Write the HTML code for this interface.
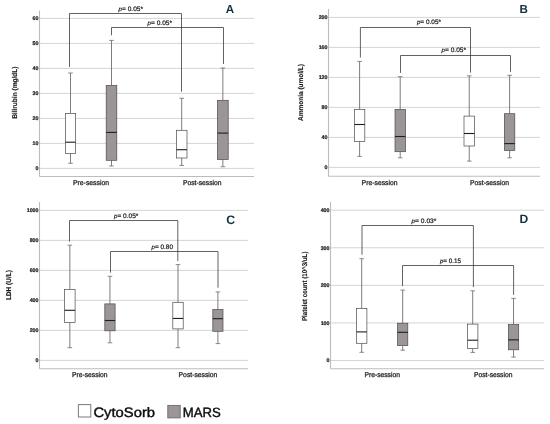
<!DOCTYPE html>
<html lang="en">
<head>
<meta charset="utf-8">
<title>Box plots: CytoSorb vs MARS</title>
<style>
html,body{margin:0;padding:0;background:#ffffff;}
body{width:550px;height:424px;overflow:hidden;}
svg{display:block;font-family:"Liberation Sans", sans-serif;}
</style>
</head>
<body>
<svg width="550" height="424" viewBox="0 0 550 424" text-rendering="geometricPrecision">
<rect x="0" y="0" width="550" height="424" fill="#ffffff"/>
<line x1="39.5" y1="18.4" x2="254" y2="18.4" stroke="#cfcfcf" stroke-width="0.9"/>
<line x1="39.5" y1="43.4" x2="254" y2="43.4" stroke="#cfcfcf" stroke-width="0.9"/>
<line x1="39.5" y1="68.4" x2="254" y2="68.4" stroke="#cfcfcf" stroke-width="0.9"/>
<line x1="39.5" y1="93.4" x2="254" y2="93.4" stroke="#cfcfcf" stroke-width="0.9"/>
<line x1="39.5" y1="118.4" x2="254" y2="118.4" stroke="#cfcfcf" stroke-width="0.9"/>
<line x1="39.5" y1="143.4" x2="254" y2="143.4" stroke="#cfcfcf" stroke-width="0.9"/>
<line x1="39.5" y1="168.4" x2="254" y2="168.4" stroke="#cfcfcf" stroke-width="0.9"/>
<line x1="39.5" y1="10.5" x2="39.5" y2="176.5" stroke="#bcbcbc" stroke-width="1.1"/>
<line x1="39.5" y1="176.5" x2="254" y2="176.5" stroke="#bcbcbc" stroke-width="1.1"/>
<text x="38.5" y="20.2" font-size="5.3" font-weight="700" text-anchor="end" fill="#1c1c1c" stroke="#1c1c1c" stroke-width="0.22">60</text>
<text x="38.5" y="45.199999999999996" font-size="5.3" font-weight="700" text-anchor="end" fill="#1c1c1c" stroke="#1c1c1c" stroke-width="0.22">50</text>
<text x="38.5" y="70.2" font-size="5.3" font-weight="700" text-anchor="end" fill="#1c1c1c" stroke="#1c1c1c" stroke-width="0.22">40</text>
<text x="38.5" y="95.2" font-size="5.3" font-weight="700" text-anchor="end" fill="#1c1c1c" stroke="#1c1c1c" stroke-width="0.22">30</text>
<text x="38.5" y="120.2" font-size="5.3" font-weight="700" text-anchor="end" fill="#1c1c1c" stroke="#1c1c1c" stroke-width="0.22">20</text>
<text x="38.5" y="145.20000000000002" font-size="5.3" font-weight="700" text-anchor="end" fill="#1c1c1c" stroke="#1c1c1c" stroke-width="0.22">10</text>
<text x="38.5" y="170.20000000000002" font-size="5.3" font-weight="700" text-anchor="end" fill="#1c1c1c" stroke="#1c1c1c" stroke-width="0.22">0</text>
<line x1="70.5" y1="73" x2="70.5" y2="113.4" stroke="#6e6e6e" stroke-width="0.9"/>
<line x1="70.5" y1="153.5" x2="70.5" y2="163.3" stroke="#6e6e6e" stroke-width="0.9"/>
<line x1="68.2" y1="73" x2="72.8" y2="73" stroke="#6e6e6e" stroke-width="0.8"/>
<line x1="68.2" y1="163.3" x2="72.8" y2="163.3" stroke="#6e6e6e" stroke-width="0.8"/>
<rect x="65.35" y="113.4" width="10.30" height="40.10" fill="#ffffff" stroke="#4a4a4a" stroke-width="0.7"/>
<line x1="65.35" y1="142.2" x2="75.65" y2="142.2" stroke="#1e1e1e" stroke-width="1.1"/>
<line x1="111.5" y1="40.4" x2="111.5" y2="85.5" stroke="#6e6e6e" stroke-width="0.9"/>
<line x1="111.5" y1="160.3" x2="111.5" y2="166" stroke="#6e6e6e" stroke-width="0.9"/>
<line x1="109.2" y1="40.4" x2="113.8" y2="40.4" stroke="#6e6e6e" stroke-width="0.8"/>
<line x1="109.2" y1="166" x2="113.8" y2="166" stroke="#6e6e6e" stroke-width="0.8"/>
<rect x="106.2" y="85.5" width="10.60" height="74.80" fill="#9b9597" stroke="#4a4a4a" stroke-width="0.7"/>
<line x1="106.2" y1="132.4" x2="116.8" y2="132.4" stroke="#1e1e1e" stroke-width="1.1"/>
<line x1="181.7" y1="98.3" x2="181.7" y2="130.3" stroke="#6e6e6e" stroke-width="0.9"/>
<line x1="181.7" y1="158" x2="181.7" y2="165.4" stroke="#6e6e6e" stroke-width="0.9"/>
<line x1="179.39999999999998" y1="98.3" x2="184.0" y2="98.3" stroke="#6e6e6e" stroke-width="0.8"/>
<line x1="179.39999999999998" y1="165.4" x2="184.0" y2="165.4" stroke="#6e6e6e" stroke-width="0.8"/>
<rect x="176.4" y="130.3" width="10.60" height="27.70" fill="#ffffff" stroke="#4a4a4a" stroke-width="0.7"/>
<line x1="176.4" y1="149.7" x2="187" y2="149.7" stroke="#1e1e1e" stroke-width="1.1"/>
<line x1="222.85" y1="68" x2="222.85" y2="100.3" stroke="#6e6e6e" stroke-width="0.9"/>
<line x1="222.85" y1="159.5" x2="222.85" y2="166.7" stroke="#6e6e6e" stroke-width="0.9"/>
<line x1="220.54999999999998" y1="68" x2="225.15" y2="68" stroke="#6e6e6e" stroke-width="0.8"/>
<line x1="220.54999999999998" y1="166.7" x2="225.15" y2="166.7" stroke="#6e6e6e" stroke-width="0.8"/>
<rect x="217.5" y="100.3" width="10.70" height="59.20" fill="#9b9597" stroke="#4a4a4a" stroke-width="0.7"/>
<line x1="217.5" y1="133.1" x2="228.2" y2="133.1" stroke="#1e1e1e" stroke-width="1.1"/>
<polyline points="69.5,67 69.5,13.5 181.5,13.5 181.5,91.6" fill="none" stroke="#3a3a3a" stroke-width="0.8"/>
<polyline points="111.5,35.3 111.5,27.5 223.5,27.5 223.5,64" fill="none" stroke="#3a3a3a" stroke-width="0.8"/>
<text x="118.6" y="10.5" font-size="6.4" textLength="24.4" lengthAdjust="spacingAndGlyphs" fill="#202020" stroke="#202020" stroke-width="0.2"><tspan font-style="italic" font-size="6">p</tspan>= 0.05*</text>
<text x="147.6" y="25.1" font-size="6.4" textLength="24.4" lengthAdjust="spacingAndGlyphs" fill="#202020" stroke="#202020" stroke-width="0.2"><tspan font-style="italic" font-size="6">p</tspan>= 0.05*</text>
<text x="230" y="13" font-size="11.6" font-weight="700" text-anchor="middle" fill="#12313e">A</text>
<text x="73" y="185" font-size="7" textLength="36.0" lengthAdjust="spacingAndGlyphs" fill="#262626" stroke="#262626" stroke-width="0.28">Pre-session</text>
<text x="183" y="185" font-size="7" textLength="38.6" lengthAdjust="spacingAndGlyphs" fill="#262626" stroke="#262626" stroke-width="0.28">Post-session</text>
<text transform="translate(17,118.85) rotate(-90)" font-size="7" font-weight="700" textLength="52.3" lengthAdjust="spacingAndGlyphs" fill="#1a1a1a" stroke="#1a1a1a" stroke-width="0.15">Bilirubin (mg/dL)</text>
<line x1="328.5" y1="17.4" x2="540" y2="17.4" stroke="#cfcfcf" stroke-width="0.9"/>
<line x1="328.5" y1="47.4" x2="540" y2="47.4" stroke="#cfcfcf" stroke-width="0.9"/>
<line x1="328.5" y1="77.4" x2="540" y2="77.4" stroke="#cfcfcf" stroke-width="0.9"/>
<line x1="328.5" y1="107.4" x2="540" y2="107.4" stroke="#cfcfcf" stroke-width="0.9"/>
<line x1="328.5" y1="137.4" x2="540" y2="137.4" stroke="#cfcfcf" stroke-width="0.9"/>
<line x1="328.5" y1="167.4" x2="540" y2="167.4" stroke="#cfcfcf" stroke-width="0.9"/>
<line x1="328.5" y1="9" x2="328.5" y2="176.3" stroke="#bcbcbc" stroke-width="1.1"/>
<line x1="328.5" y1="176.3" x2="540" y2="176.3" stroke="#bcbcbc" stroke-width="1.1"/>
<text x="327.5" y="19.2" font-size="5.3" font-weight="700" text-anchor="end" fill="#1c1c1c" stroke="#1c1c1c" stroke-width="0.22">200</text>
<text x="327.5" y="49.199999999999996" font-size="5.3" font-weight="700" text-anchor="end" fill="#1c1c1c" stroke="#1c1c1c" stroke-width="0.22">160</text>
<text x="327.5" y="79.2" font-size="5.3" font-weight="700" text-anchor="end" fill="#1c1c1c" stroke="#1c1c1c" stroke-width="0.22">120</text>
<text x="327.5" y="109.2" font-size="5.3" font-weight="700" text-anchor="end" fill="#1c1c1c" stroke="#1c1c1c" stroke-width="0.22">80</text>
<text x="327.5" y="139.20000000000002" font-size="5.3" font-weight="700" text-anchor="end" fill="#1c1c1c" stroke="#1c1c1c" stroke-width="0.22">40</text>
<text x="327.5" y="169.20000000000002" font-size="5.3" font-weight="700" text-anchor="end" fill="#1c1c1c" stroke="#1c1c1c" stroke-width="0.22">0</text>
<line x1="359.6" y1="61.4" x2="359.6" y2="109.5" stroke="#6e6e6e" stroke-width="0.9"/>
<line x1="359.6" y1="141.4" x2="359.6" y2="156.4" stroke="#6e6e6e" stroke-width="0.9"/>
<line x1="357.3" y1="61.4" x2="361.90000000000003" y2="61.4" stroke="#6e6e6e" stroke-width="0.8"/>
<line x1="357.3" y1="156.4" x2="361.90000000000003" y2="156.4" stroke="#6e6e6e" stroke-width="0.8"/>
<rect x="354.4" y="109.5" width="10.40" height="31.90" fill="#ffffff" stroke="#4a4a4a" stroke-width="0.7"/>
<line x1="354.4" y1="124.5" x2="364.8" y2="124.5" stroke="#1e1e1e" stroke-width="1.1"/>
<line x1="400.2" y1="76.7" x2="400.2" y2="109.4" stroke="#6e6e6e" stroke-width="0.9"/>
<line x1="400.2" y1="151.7" x2="400.2" y2="157.8" stroke="#6e6e6e" stroke-width="0.9"/>
<line x1="397.9" y1="76.7" x2="402.5" y2="76.7" stroke="#6e6e6e" stroke-width="0.8"/>
<line x1="397.9" y1="157.8" x2="402.5" y2="157.8" stroke="#6e6e6e" stroke-width="0.8"/>
<rect x="395" y="109.4" width="10.40" height="42.30" fill="#9b9597" stroke="#4a4a4a" stroke-width="0.7"/>
<line x1="395" y1="136.5" x2="405.4" y2="136.5" stroke="#1e1e1e" stroke-width="1.1"/>
<line x1="469.25" y1="75.85" x2="469.25" y2="116.1" stroke="#6e6e6e" stroke-width="0.9"/>
<line x1="469.25" y1="146" x2="469.25" y2="161.1" stroke="#6e6e6e" stroke-width="0.9"/>
<line x1="466.95" y1="75.85" x2="471.55" y2="75.85" stroke="#6e6e6e" stroke-width="0.8"/>
<line x1="466.95" y1="161.1" x2="471.55" y2="161.1" stroke="#6e6e6e" stroke-width="0.8"/>
<rect x="464" y="116.1" width="10.50" height="29.90" fill="#ffffff" stroke="#4a4a4a" stroke-width="0.7"/>
<line x1="464" y1="133.5" x2="474.5" y2="133.5" stroke="#1e1e1e" stroke-width="1.1"/>
<line x1="509.59999999999997" y1="75.3" x2="509.59999999999997" y2="113.7" stroke="#6e6e6e" stroke-width="0.9"/>
<line x1="509.59999999999997" y1="150.4" x2="509.59999999999997" y2="157.8" stroke="#6e6e6e" stroke-width="0.9"/>
<line x1="507.29999999999995" y1="75.3" x2="511.9" y2="75.3" stroke="#6e6e6e" stroke-width="0.8"/>
<line x1="507.29999999999995" y1="157.8" x2="511.9" y2="157.8" stroke="#6e6e6e" stroke-width="0.8"/>
<rect x="504.4" y="113.7" width="10.40" height="36.70" fill="#9b9597" stroke="#4a4a4a" stroke-width="0.7"/>
<line x1="504.4" y1="143.6" x2="514.8" y2="143.6" stroke="#1e1e1e" stroke-width="1.1"/>
<polyline points="360.4,57.6 360.4,27.5 470.5,27.5 470.5,72.6" fill="none" stroke="#3a3a3a" stroke-width="0.8"/>
<polyline points="400.5,72.9 400.5,55.5 510.5,55.5 510.5,71.8" fill="none" stroke="#3a3a3a" stroke-width="0.8"/>
<text x="417" y="24.2" font-size="6.4" textLength="24.0" lengthAdjust="spacingAndGlyphs" fill="#202020" stroke="#202020" stroke-width="0.2"><tspan font-style="italic" font-size="6">p</tspan>= 0.05*</text>
<text x="441.6" y="52.2" font-size="6.4" textLength="24.4" lengthAdjust="spacingAndGlyphs" fill="#202020" stroke="#202020" stroke-width="0.2"><tspan font-style="italic" font-size="6">p</tspan>= 0.05*</text>
<text x="523.7" y="13.2" font-size="11.6" font-weight="700" text-anchor="middle" fill="#12313e">B</text>
<text x="361.6" y="184.6" font-size="7" textLength="36.0" lengthAdjust="spacingAndGlyphs" fill="#262626" stroke="#262626" stroke-width="0.28">Pre-session</text>
<text x="470" y="184.6" font-size="7" textLength="39.0" lengthAdjust="spacingAndGlyphs" fill="#262626" stroke="#262626" stroke-width="0.28">Post-session</text>
<text transform="translate(303,121.0) rotate(-90)" font-size="7" font-weight="700" textLength="57" lengthAdjust="spacingAndGlyphs" fill="#1a1a1a" stroke="#1a1a1a" stroke-width="0.15">Ammonia (umol/L)</text>
<line x1="39.5" y1="210.35" x2="248" y2="210.35" stroke="#cfcfcf" stroke-width="0.9"/>
<line x1="39.5" y1="240.35" x2="248" y2="240.35" stroke="#cfcfcf" stroke-width="0.9"/>
<line x1="39.5" y1="270.35" x2="248" y2="270.35" stroke="#cfcfcf" stroke-width="0.9"/>
<line x1="39.5" y1="300.35" x2="248" y2="300.35" stroke="#cfcfcf" stroke-width="0.9"/>
<line x1="39.5" y1="330.35" x2="248" y2="330.35" stroke="#cfcfcf" stroke-width="0.9"/>
<line x1="39.5" y1="360.35" x2="248" y2="360.35" stroke="#cfcfcf" stroke-width="0.9"/>
<line x1="39.5" y1="202" x2="39.5" y2="368.8" stroke="#bcbcbc" stroke-width="1.1"/>
<line x1="39.5" y1="368.8" x2="248" y2="368.8" stroke="#bcbcbc" stroke-width="1.1"/>
<text x="38.5" y="212.15" font-size="5.3" font-weight="700" text-anchor="end" fill="#1c1c1c" stroke="#1c1c1c" stroke-width="0.22">1000</text>
<text x="38.5" y="242.15" font-size="5.3" font-weight="700" text-anchor="end" fill="#1c1c1c" stroke="#1c1c1c" stroke-width="0.22">800</text>
<text x="38.5" y="272.15000000000003" font-size="5.3" font-weight="700" text-anchor="end" fill="#1c1c1c" stroke="#1c1c1c" stroke-width="0.22">600</text>
<text x="38.5" y="302.15000000000003" font-size="5.3" font-weight="700" text-anchor="end" fill="#1c1c1c" stroke="#1c1c1c" stroke-width="0.22">400</text>
<text x="38.5" y="332.15000000000003" font-size="5.3" font-weight="700" text-anchor="end" fill="#1c1c1c" stroke="#1c1c1c" stroke-width="0.22">200</text>
<text x="38.5" y="362.15000000000003" font-size="5.3" font-weight="700" text-anchor="end" fill="#1c1c1c" stroke="#1c1c1c" stroke-width="0.22">0</text>
<line x1="69.85" y1="245.2" x2="69.85" y2="289.5" stroke="#6e6e6e" stroke-width="0.9"/>
<line x1="69.85" y1="322.5" x2="69.85" y2="347.7" stroke="#6e6e6e" stroke-width="0.9"/>
<line x1="67.55" y1="245.2" x2="72.14999999999999" y2="245.2" stroke="#6e6e6e" stroke-width="0.8"/>
<line x1="67.55" y1="347.7" x2="72.14999999999999" y2="347.7" stroke="#6e6e6e" stroke-width="0.8"/>
<rect x="64.6" y="289.5" width="10.50" height="33.00" fill="#ffffff" stroke="#4a4a4a" stroke-width="0.7"/>
<line x1="64.6" y1="310.3" x2="75.1" y2="310.3" stroke="#1e1e1e" stroke-width="1.1"/>
<line x1="109.94999999999999" y1="276.3" x2="109.94999999999999" y2="303.9" stroke="#6e6e6e" stroke-width="0.9"/>
<line x1="109.94999999999999" y1="330.8" x2="109.94999999999999" y2="342.8" stroke="#6e6e6e" stroke-width="0.9"/>
<line x1="107.64999999999999" y1="276.3" x2="112.24999999999999" y2="276.3" stroke="#6e6e6e" stroke-width="0.8"/>
<line x1="107.64999999999999" y1="342.8" x2="112.24999999999999" y2="342.8" stroke="#6e6e6e" stroke-width="0.8"/>
<rect x="104.8" y="303.9" width="10.30" height="26.90" fill="#9b9597" stroke="#4a4a4a" stroke-width="0.7"/>
<line x1="104.8" y1="320.5" x2="115.1" y2="320.5" stroke="#1e1e1e" stroke-width="1.1"/>
<line x1="178.0" y1="264.6" x2="178.0" y2="302.3" stroke="#6e6e6e" stroke-width="0.9"/>
<line x1="178.0" y1="328.9" x2="178.0" y2="347.7" stroke="#6e6e6e" stroke-width="0.9"/>
<line x1="175.7" y1="264.6" x2="180.3" y2="264.6" stroke="#6e6e6e" stroke-width="0.8"/>
<line x1="175.7" y1="347.7" x2="180.3" y2="347.7" stroke="#6e6e6e" stroke-width="0.8"/>
<rect x="172.8" y="302.3" width="10.40" height="26.60" fill="#ffffff" stroke="#4a4a4a" stroke-width="0.7"/>
<line x1="172.8" y1="318.45" x2="183.2" y2="318.45" stroke="#1e1e1e" stroke-width="1.1"/>
<line x1="217.9" y1="291.9" x2="217.9" y2="309.5" stroke="#6e6e6e" stroke-width="0.9"/>
<line x1="217.9" y1="331.3" x2="217.9" y2="343.6" stroke="#6e6e6e" stroke-width="0.9"/>
<line x1="215.6" y1="291.9" x2="220.20000000000002" y2="291.9" stroke="#6e6e6e" stroke-width="0.8"/>
<line x1="215.6" y1="343.6" x2="220.20000000000002" y2="343.6" stroke="#6e6e6e" stroke-width="0.8"/>
<rect x="212.8" y="309.5" width="10.20" height="21.80" fill="#9b9597" stroke="#4a4a4a" stroke-width="0.7"/>
<line x1="212.8" y1="318.7" x2="223" y2="318.7" stroke="#1e1e1e" stroke-width="1.1"/>
<polyline points="69.5,241.6 69.5,220.5 177.8,220.5 177.8,261" fill="none" stroke="#3a3a3a" stroke-width="0.8"/>
<polyline points="110.5,272.6 110.5,251.5 218,251.5 218,287.7" fill="none" stroke="#3a3a3a" stroke-width="0.8"/>
<text x="114" y="218.1" font-size="6.4" textLength="24.4" lengthAdjust="spacingAndGlyphs" fill="#202020" stroke="#202020" stroke-width="0.2"><tspan font-style="italic" font-size="6">p</tspan>= 0.05*</text>
<text x="151.6" y="249.1" font-size="6.4" textLength="21.4" lengthAdjust="spacingAndGlyphs" fill="#202020" stroke="#202020" stroke-width="0.2"><tspan font-style="italic" font-size="6">p</tspan>= 0.80</text>
<text x="230.6" y="223.5" font-size="12.3" font-weight="700" text-anchor="middle" fill="#12313e">C</text>
<text x="72" y="377.2" font-size="7" textLength="35.6" lengthAdjust="spacingAndGlyphs" fill="#262626" stroke="#262626" stroke-width="0.28">Pre-session</text>
<text x="178.6" y="377.2" font-size="7" textLength="38.8" lengthAdjust="spacingAndGlyphs" fill="#262626" stroke="#262626" stroke-width="0.28">Post-session</text>
<text transform="translate(10.9,300.1) rotate(-90)" font-size="7" font-weight="700" textLength="30" lengthAdjust="spacingAndGlyphs" fill="#1a1a1a" stroke="#1a1a1a" stroke-width="0.15">LDH (U/L)</text>
<line x1="330.5" y1="210.15" x2="544" y2="210.15" stroke="#cfcfcf" stroke-width="0.9"/>
<line x1="330.5" y1="247.75" x2="544" y2="247.75" stroke="#cfcfcf" stroke-width="0.9"/>
<line x1="330.5" y1="285.35" x2="544" y2="285.35" stroke="#cfcfcf" stroke-width="0.9"/>
<line x1="330.5" y1="322.95" x2="544" y2="322.95" stroke="#cfcfcf" stroke-width="0.9"/>
<line x1="330.5" y1="360.55" x2="544" y2="360.55" stroke="#cfcfcf" stroke-width="0.9"/>
<line x1="330.5" y1="202" x2="330.5" y2="368.8" stroke="#bcbcbc" stroke-width="1.1"/>
<line x1="330.5" y1="368.8" x2="544" y2="368.8" stroke="#bcbcbc" stroke-width="1.1"/>
<text x="329.5" y="211.95000000000002" font-size="5.3" font-weight="700" text-anchor="end" fill="#1c1c1c" stroke="#1c1c1c" stroke-width="0.22">400</text>
<text x="329.5" y="249.55" font-size="5.3" font-weight="700" text-anchor="end" fill="#1c1c1c" stroke="#1c1c1c" stroke-width="0.22">300</text>
<text x="329.5" y="287.15000000000003" font-size="5.3" font-weight="700" text-anchor="end" fill="#1c1c1c" stroke="#1c1c1c" stroke-width="0.22">200</text>
<text x="329.5" y="324.75" font-size="5.3" font-weight="700" text-anchor="end" fill="#1c1c1c" stroke="#1c1c1c" stroke-width="0.22">100</text>
<text x="329.5" y="362.35" font-size="5.3" font-weight="700" text-anchor="end" fill="#1c1c1c" stroke="#1c1c1c" stroke-width="0.22">0</text>
<line x1="361.7" y1="258.7" x2="361.7" y2="308.5" stroke="#6e6e6e" stroke-width="0.9"/>
<line x1="361.7" y1="343.3" x2="361.7" y2="352.3" stroke="#6e6e6e" stroke-width="0.9"/>
<line x1="359.4" y1="258.7" x2="364.0" y2="258.7" stroke="#6e6e6e" stroke-width="0.8"/>
<line x1="359.4" y1="352.3" x2="364.0" y2="352.3" stroke="#6e6e6e" stroke-width="0.8"/>
<rect x="356.5" y="308.5" width="10.40" height="34.80" fill="#ffffff" stroke="#4a4a4a" stroke-width="0.7"/>
<line x1="356.5" y1="331.9" x2="366.9" y2="331.9" stroke="#1e1e1e" stroke-width="1.1"/>
<line x1="402.70000000000005" y1="290.1" x2="402.70000000000005" y2="323.2" stroke="#6e6e6e" stroke-width="0.9"/>
<line x1="402.70000000000005" y1="345.6" x2="402.70000000000005" y2="350.2" stroke="#6e6e6e" stroke-width="0.9"/>
<line x1="400.40000000000003" y1="290.1" x2="405.00000000000006" y2="290.1" stroke="#6e6e6e" stroke-width="0.8"/>
<line x1="400.40000000000003" y1="350.2" x2="405.00000000000006" y2="350.2" stroke="#6e6e6e" stroke-width="0.8"/>
<rect x="397.6" y="323.2" width="10.20" height="22.40" fill="#9b9597" stroke="#4a4a4a" stroke-width="0.7"/>
<line x1="397.6" y1="332.3" x2="407.8" y2="332.3" stroke="#1e1e1e" stroke-width="1.1"/>
<line x1="472.7" y1="290.8" x2="472.7" y2="324.1" stroke="#6e6e6e" stroke-width="0.9"/>
<line x1="472.7" y1="348.5" x2="472.7" y2="352.4" stroke="#6e6e6e" stroke-width="0.9"/>
<line x1="470.4" y1="290.8" x2="475.0" y2="290.8" stroke="#6e6e6e" stroke-width="0.8"/>
<line x1="470.4" y1="352.4" x2="475.0" y2="352.4" stroke="#6e6e6e" stroke-width="0.8"/>
<rect x="467.5" y="324.1" width="10.40" height="24.40" fill="#ffffff" stroke="#4a4a4a" stroke-width="0.7"/>
<line x1="467.5" y1="340.2" x2="477.9" y2="340.2" stroke="#1e1e1e" stroke-width="1.1"/>
<line x1="513.55" y1="298.4" x2="513.55" y2="324.6" stroke="#6e6e6e" stroke-width="0.9"/>
<line x1="513.55" y1="349.8" x2="513.55" y2="357.1" stroke="#6e6e6e" stroke-width="0.9"/>
<line x1="511.24999999999994" y1="298.4" x2="515.8499999999999" y2="298.4" stroke="#6e6e6e" stroke-width="0.8"/>
<line x1="511.24999999999994" y1="357.1" x2="515.8499999999999" y2="357.1" stroke="#6e6e6e" stroke-width="0.8"/>
<rect x="508.4" y="324.6" width="10.30" height="25.20" fill="#9b9597" stroke="#4a4a4a" stroke-width="0.7"/>
<line x1="508.4" y1="339.85" x2="518.7" y2="339.85" stroke="#1e1e1e" stroke-width="1.1"/>
<polyline points="362,254.8 362,225.5 473.4,225.5 473.4,287" fill="none" stroke="#3a3a3a" stroke-width="0.8"/>
<polyline points="402.5,286 402.5,265.5 513.6,265.5 513.6,294.8" fill="none" stroke="#3a3a3a" stroke-width="0.8"/>
<text x="411.6" y="223.1" font-size="6.4" textLength="24.8" lengthAdjust="spacingAndGlyphs" fill="#202020" stroke="#202020" stroke-width="0.2"><tspan font-style="italic" font-size="6">p</tspan>= 0.03*</text>
<text x="440" y="262.9" font-size="6.4" textLength="21.0" lengthAdjust="spacingAndGlyphs" fill="#202020" stroke="#202020" stroke-width="0.2"><tspan font-style="italic" font-size="6">p</tspan>= 0.15</text>
<text x="523.8" y="223.2" font-size="12.1" font-weight="700" text-anchor="middle" fill="#12313e">D</text>
<text x="364.4" y="377.2" font-size="7" textLength="35.6" lengthAdjust="spacingAndGlyphs" fill="#262626" stroke="#262626" stroke-width="0.28">Pre-session</text>
<text x="474" y="377.2" font-size="7" textLength="38.4" lengthAdjust="spacingAndGlyphs" fill="#262626" stroke="#262626" stroke-width="0.28">Post-session</text>
<text transform="translate(307.1,321.05) rotate(-90)" font-size="7" font-weight="700" textLength="69.5" lengthAdjust="spacingAndGlyphs" fill="#1a1a1a" stroke="#1a1a1a" stroke-width="0.15">Platelet count (10^3/uL)</text>
<rect x="78.4" y="404.6" width="12.4" height="12.4" fill="#fff" stroke="#7a7a7a" stroke-width="1"/>
<text x="93.4" y="416.9" font-size="13.7" textLength="61.7" lengthAdjust="spacingAndGlyphs" fill="#0c0c0c" stroke="#0c0c0c" stroke-width="0.4">CytoSorb</text>
<rect x="167.8" y="405.4" width="12.4" height="12.5" fill="#9b9597" stroke="#6a6a6a" stroke-width="0.9"/>
<text x="182.7" y="417.1" font-size="13.4" textLength="38" lengthAdjust="spacingAndGlyphs" fill="#0c0c0c" stroke="#0c0c0c" stroke-width="0.4">MARS</text>
</svg>
</body>
</html>
